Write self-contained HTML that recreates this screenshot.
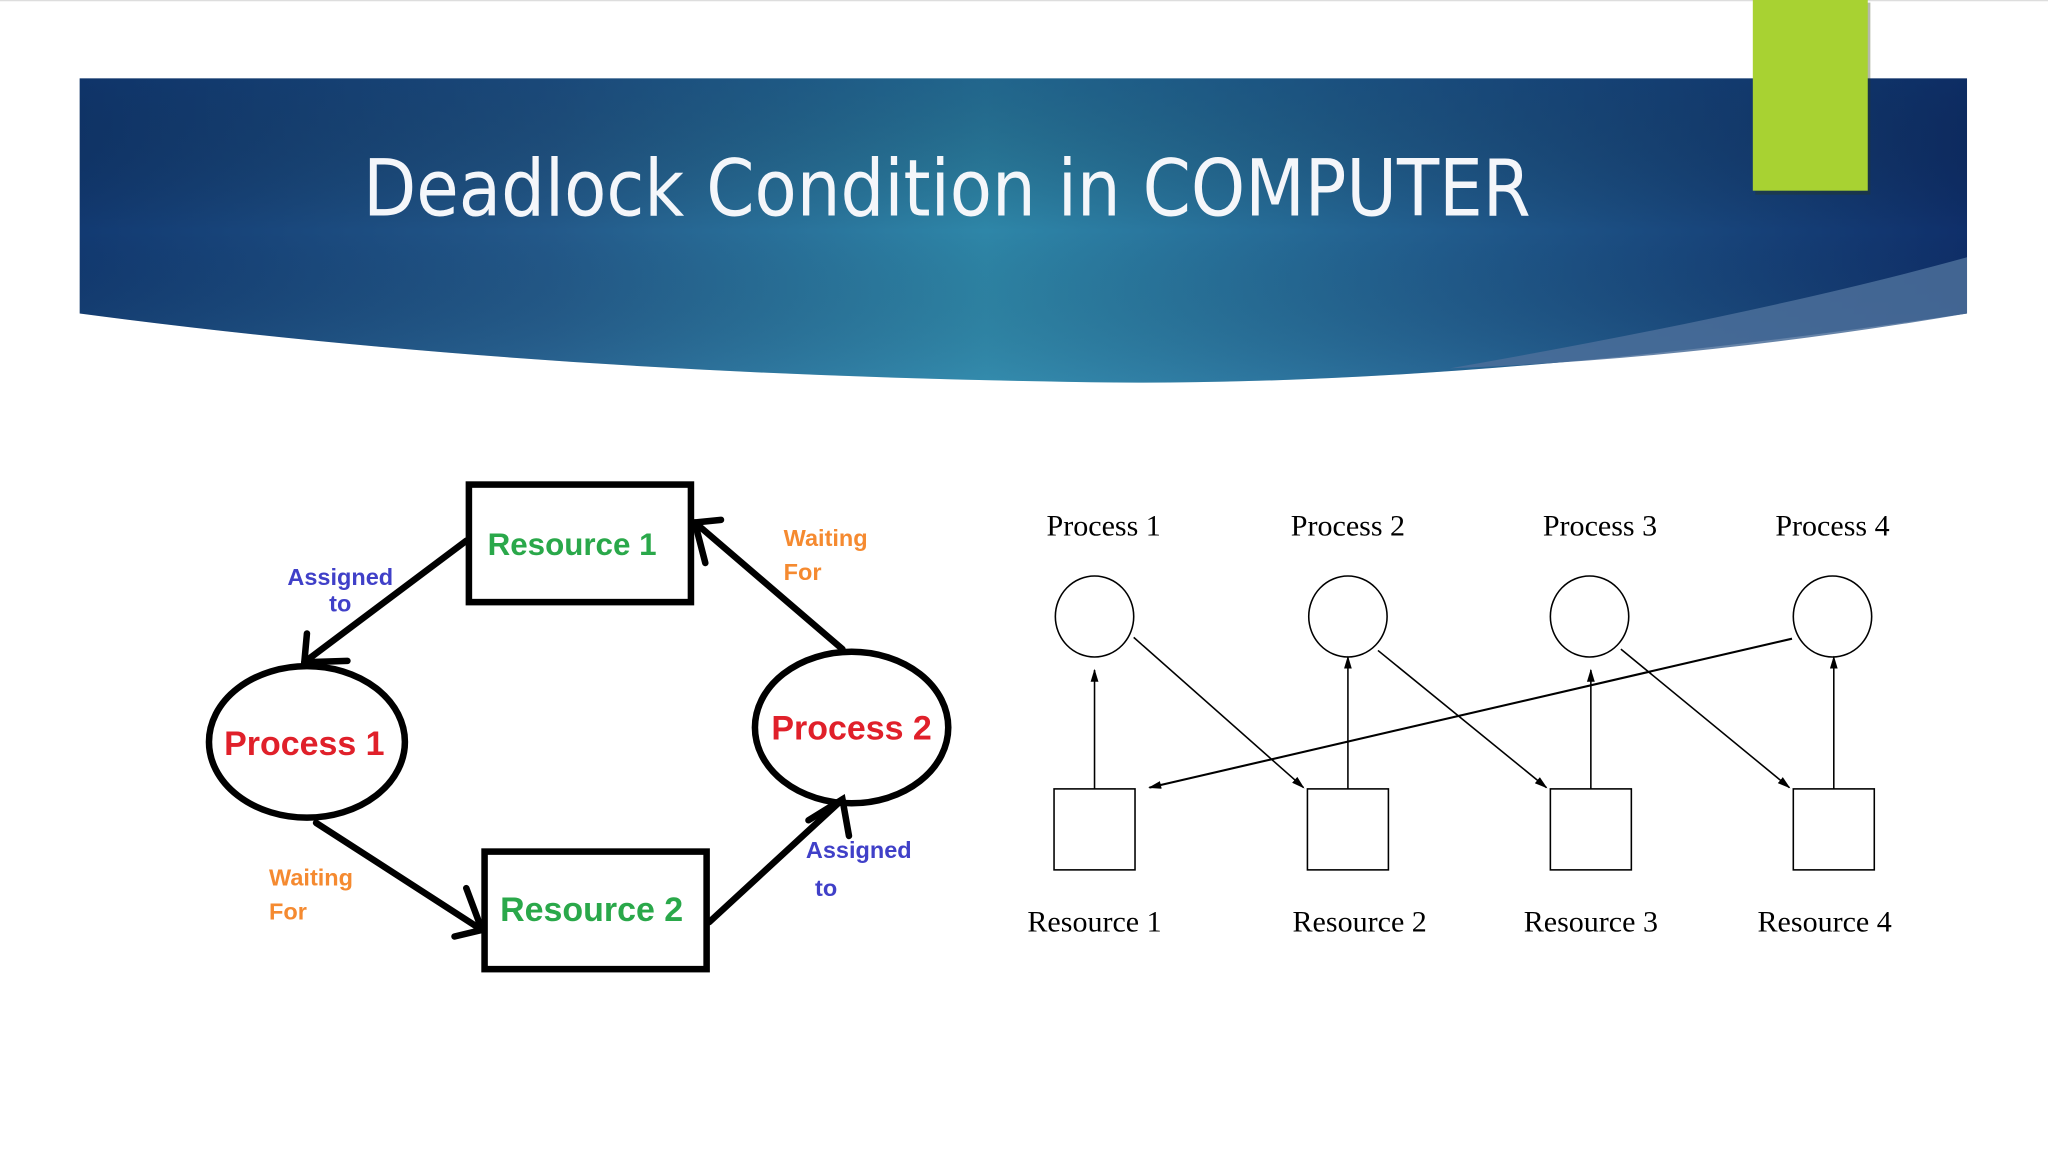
<!DOCTYPE html>
<html><head><meta charset="utf-8"><style>
html,body{margin:0;padding:0;background:#fff;width:2048px;height:1152px;overflow:hidden}
svg{display:block}
</style></head><body>
<svg width="2048" height="1152" viewBox="0 0 1568 882" xmlns="http://www.w3.org/2000/svg">
<defs>
<linearGradient id="bg" x1="0" x2="1" y1="0" y2="0">
<stop offset="0" stop-color="#123a72"/>
<stop offset="0.25" stop-color="#23598a"/>
<stop offset="0.48" stop-color="#2e86a8"/>
<stop offset="0.72" stop-color="#215c8d"/>
<stop offset="1" stop-color="#0f2f6a"/>
</linearGradient>
<linearGradient id="vg" x1="0" x2="0" y1="0" y2="1">
<stop offset="0" stop-color="#0a2a5a" stop-opacity="0.35"/>
<stop offset="0.5" stop-color="#000" stop-opacity="0"/>
<stop offset="1" stop-color="#4aa0c0" stop-opacity="0.2"/>
</linearGradient>
<marker id="ah" markerWidth="10" markerHeight="8" refX="9" refY="4" orient="auto" markerUnits="userSpaceOnUse">
<path d="M0,1 L10,4 L0,7 z" fill="#000"/>
</marker>
</defs>
<line x1="0" y1="0.5" x2="1568" y2="0.5" stroke="#ddd"/>
<path d="M61,60 H1506 V240 Q1100,300 800,292 Q400,285 61,240 Z" fill="url(#bg)"/>
<path d="M61,60 H1506 V240 Q1100,300 800,292 Q400,285 61,240 Z" fill="url(#vg)"/>
<path d="M1506,197 V240 Q1300,275 1110,282 Q1350,240 1506,197 Z" fill="#4b6f9a" opacity="0.85"/>
<rect x="1344" y="2" width="88" height="147" fill="#2a3a10" opacity="0.35"/>
<rect x="1342" y="0" width="88" height="146" fill="#a8d232"/>
<text x="278" y="165" font-family="DejaVu Sans, Liberation Sans, sans-serif" font-size="60" fill="#f4f6fa" textLength="894" lengthAdjust="spacingAndGlyphs">Deadlock Condition in COMPUTER</text>

<g fill="none" stroke="#000" stroke-width="5" stroke-linecap="round">
<rect x="359" y="371" width="170" height="90"/>
<rect x="371" y="652" width="170" height="90"/>
<ellipse cx="235" cy="568" rx="75" ry="58"/>
<ellipse cx="652" cy="557" rx="74" ry="58"/>
<line x1="357" y1="414" x2="233" y2="507"/>
<polyline points="235,485 233,507 266,506"/>
<line x1="645" y1="497" x2="532" y2="400"/>
<polyline points="540,431 532,400 552,398"/>
<line x1="242" y1="630" x2="369" y2="712"/>
<polyline points="357,680 369,712 348,717"/>
<line x1="543" y1="706" x2="645" y2="612"/>
<polyline points="619,628 645,612 650,640"/>
</g>
<g font-family="Liberation Sans, sans-serif" font-weight="bold">
<text x="438" y="425" font-size="24" fill="#2aa84a" text-anchor="middle">Resource 1</text>
<text x="453" y="705" font-size="26" fill="#2aa84a" text-anchor="middle">Resource 2</text>
<text x="233" y="578" font-size="26" fill="#e0202a" text-anchor="middle">Process 1</text>
<text x="652" y="566" font-size="26" fill="#e0202a" text-anchor="middle">Process 2</text>
<g font-size="18">
<text x="220" y="448" fill="#4040c8">Assigned</text>
<text x="252" y="468" fill="#4040c8">to</text>
<text x="617" y="657" fill="#4040c8">Assigned</text>
<text x="624" y="686" fill="#4040c8">to</text>
<text x="600" y="418" fill="#f58a30">Waiting</text>
<text x="600" y="444" fill="#f58a30">For</text>
<text x="206" y="678" fill="#f58a30">Waiting</text>
<text x="206" y="704" fill="#f58a30">For</text>
</g>
</g>

<g fill="none" stroke="#000" stroke-width="1.2">
<ellipse cx="838" cy="472" rx="30" ry="31"/>
<ellipse cx="1032" cy="472" rx="30" ry="31"/>
<ellipse cx="1217" cy="472" rx="30" ry="31"/>
<ellipse cx="1403" cy="472" rx="30" ry="31"/>
<rect x="807" y="604" width="62" height="62"/>
<rect x="1001" y="604" width="62" height="62"/>
<rect x="1187" y="604" width="62" height="62"/>
<rect x="1373" y="604" width="62" height="62"/>
<line x1="838" y1="604" x2="838" y2="513" marker-end="url(#ah)"/>
<line x1="1032" y1="604" x2="1032" y2="503" marker-end="url(#ah)"/>
<line x1="1218" y1="604" x2="1218" y2="513" marker-end="url(#ah)"/>
<line x1="1404" y1="604" x2="1404" y2="503" marker-end="url(#ah)"/>
<line x1="868" y1="488" x2="998" y2="603" marker-end="url(#ah)"/>
<line x1="1055" y1="498" x2="1184" y2="603" marker-end="url(#ah)"/>
<line x1="1241" y1="497" x2="1370" y2="603" marker-end="url(#ah)"/>
<line x1="1372" y1="489" x2="880" y2="603" stroke-width="1.6" marker-end="url(#ah)"/>
</g>
<g font-family="Liberation Serif, serif" font-size="23" fill="#000" text-anchor="middle">
<text x="845" y="410">Process 1</text>
<text x="1032" y="410">Process 2</text>
<text x="1225" y="410">Process 3</text>
<text x="1403" y="410">Process 4</text>
<text x="838" y="713">Resource 1</text>
<text x="1041" y="713">Resource 2</text>
<text x="1218" y="713">Resource 3</text>
<text x="1397" y="713">Resource 4</text>
</g>
</svg>
</body></html>
